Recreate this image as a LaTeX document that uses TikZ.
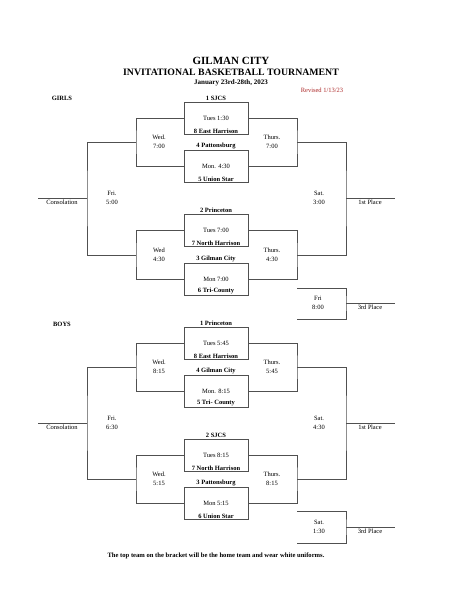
\documentclass[tikz,border=0pt]{standalone}
\usepackage{fontspec}
\setmainfont{Liberation Serif}
\usepackage{xcolor}
\usepackage{tikz}
\usetikzlibrary{positioning}
\definecolor{linegray}{RGB}{80,80,80}
\definecolor{revred}{RGB}{175,45,45}

\begin{document}
\begin{tikzpicture}[x=1pt,y=-1pt,
  teambox/.style={draw=linegray,line width=0.7pt,minimum width=64pt,minimum height=32pt,inner sep=0pt,font=\fontsize{6.5}{7}\selectfont},
  team/.style={font=\bfseries\fontsize{6.5}{7}\selectfont,inner sep=1pt,anchor=south},
  game/.style={font=\fontsize{6.5}{8.5}\selectfont,align=center,inner sep=0pt},
  bracket/.style={draw=linegray,line width=0.7pt},
  place/.style={font=\fontsize{6.5}{7}\selectfont,inner sep=1.5pt,anchor=north}]
\useasboundingbox[fill=white] (0,0) rectangle (463,600);
% heading
\node[font=\bfseries\fontsize{11}{12}\selectfont] (title) at (231,61) {GILMAN CITY};
\node[font=\bfseries\fontsize{9.8}{11}\selectfont] (subtitle) at (231,72) {INVITATIONAL BASKETBALL TOURNAMENT};
\node[font=\bfseries\fontsize{7}{8}\selectfont] (dates) at (231,83) {January 23rd-28th, 2023};
\node[font=\fontsize{6.5}{7}\selectfont,text=revred] (revised) at (322,90) {Revised 1/13/23};
\node[font=\bfseries\fontsize{6.5}{7}\selectfont] (girls) at (62,98) {GIRLS};
\node[font=\bfseries\fontsize{6.5}{7}\selectfont] (boys) at (62,324) {BOYS};
% first round boxes
\foreach \n/\y/\hi/\tm/\lo in {
  g1/118.5/1 SJCS/Tues 1:30/8 East Harrison,
  g2/166.5/4 Pattonsburg/Mon. 4:30/5 Union Star,
  g3/230.5/2 Princeton/Tues 7:00/7 North Harrison,
  g4/279/3 Gilman City/Mon 7:00/6 Tri-County,
  b1/343/1 Princeton/Tues 5:45/8 East Harrison,
  b2/391/4 Gilman City/Mon. 8:15/5 Tri- County,
  b3/455/2 SJCS/Tues 8:15/7 North Harrison,
  b4/503/3 Pattonsburg/Mon 5:15/6 Union Star} {
  \node[teambox] (\n) at (216,\y) {\tm};
  \node[team] at (\n.north) {\hi};
  \node[team] at (\n.south) {\lo};
}
% game points
\coordinate (wed1) at (136,142);
\coordinate (wed2) at (136,255);
\coordinate (fri1) at (87,198);
\coordinate (cons1) at (38,198);
\coordinate (thu1) at (297,142);
\coordinate (thu2) at (297,255);
\coordinate (sat1) at (346,198);
\coordinate (win1) at (395,198);
\coordinate (ls1) at (297,288);
\coordinate (ls2) at (297,319);
\coordinate (thr1) at (346,303);
\coordinate (bronze1) at (395,303);
\coordinate (wed3) at (136,367);
\coordinate (wed4) at (136,479);
\coordinate (fri2) at (87,423);
\coordinate (cons2) at (38,423);
\coordinate (thu3) at (297,367);
\coordinate (thu4) at (297,479);
\coordinate (sat2) at (346,423);
\coordinate (win2) at (395,423);
\coordinate (ls3) at (297,511);
\coordinate (ls4) at (297,543);
\coordinate (thr2) at (346,527);
\coordinate (bronze2) at (395,527);
% girls bracket
\draw[bracket] (g1.west) -| (wed1) |- (g2.west);
\draw[bracket] (g3.west) -| (wed2) |- (g4.west);
\draw[bracket] (wed1) -| (fri1) |- (wed2);
\draw[bracket] (fri1) -- (cons1);
\draw[bracket] (g1.east) -| (thu1) |- (g2.east);
\draw[bracket] (g3.east) -| (thu2) |- (g4.east);
\draw[bracket] (thu1) -| (sat1) |- (thu2);
\draw[bracket] (sat1) -- (win1);
\draw[bracket] (ls1) -| (thr1) |- (ls2);
\draw[bracket] (thr1) -- (bronze1);
\node[game] at ([xshift=23pt]wed1) {Wed.\\7:00};
\node[game] at ([xshift=23pt]wed2) {Wed\\4:30};
\node[game] at ([xshift=25pt]fri1) {Fri.\\5:00};
\node[game] at ([xshift=-25pt]thu1) {Thurs.\\7:00};
\node[game] at ([xshift=-25pt]thu2) {Thurs.\\4:30};
\node[game] at ([xshift=-27pt]sat1) {Sat.\\3:00};
\node[game] at ([xshift=-28pt]thr1) {Fri\\8:00};
\node[place] at ([xshift=-25pt]fri1) {Consolation};
\node[place] at ([xshift=24pt]sat1) {1st Place};
\node[place] at ([xshift=24pt]thr1) {3rd Place};
% boys bracket
\draw[bracket] (b1.west) -| (wed3) |- (b2.west);
\draw[bracket] (b3.west) -| (wed4) |- (b4.west);
\draw[bracket] (wed3) -| (fri2) |- (wed4);
\draw[bracket] (fri2) -- (cons2);
\draw[bracket] (b1.east) -| (thu3) |- (b2.east);
\draw[bracket] (b3.east) -| (thu4) |- (b4.east);
\draw[bracket] (thu3) -| (sat2) |- (thu4);
\draw[bracket] (sat2) -- (win2);
\draw[bracket] (ls3) -| (thr2) |- (ls4);
\draw[bracket] (thr2) -- (bronze2);
\node[game] at ([xshift=23pt]wed3) {Wed.\\8:15};
\node[game] at ([xshift=23pt]wed4) {Wed.\\5:15};
\node[game] at ([xshift=25pt]fri2) {Fri.\\6:30};
\node[game] at ([xshift=-25pt]thu3) {Thurs.\\5:45};
\node[game] at ([xshift=-25pt]thu4) {Thurs.\\8:15};
\node[game] at ([xshift=-27pt]sat2) {Sat.\\4:30};
\node[game] at ([xshift=-27pt]thr2) {Sat.\\1:30};
\node[place] at ([xshift=-25pt]fri2) {Consolation};
\node[place] at ([xshift=24pt]sat2) {1st Place};
\node[place] at ([xshift=24pt]thr2) {3rd Place};
% footer
\node[font=\bfseries\fontsize{6.6}{7}\selectfont] (note) at (216,556) {The top team on the bracket will be the home team and wear white uniforms.};
\end{tikzpicture}
\end{document}
